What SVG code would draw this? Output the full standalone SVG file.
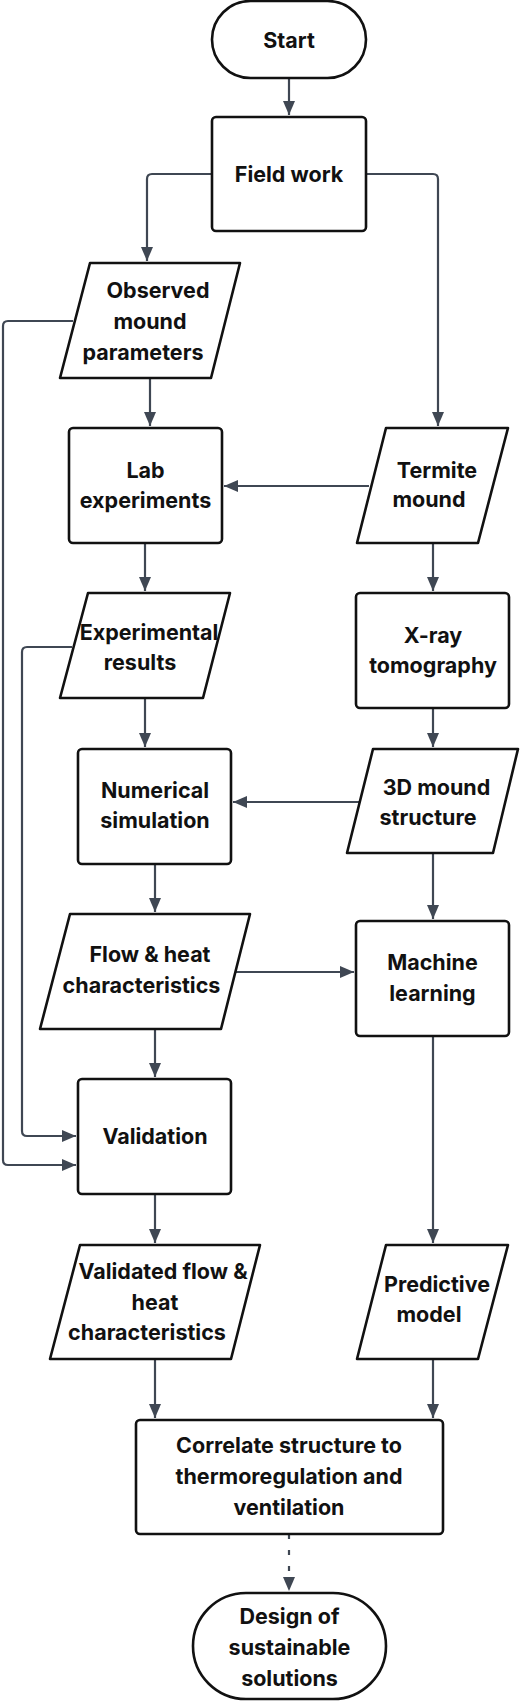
<svg xmlns="http://www.w3.org/2000/svg" width="520" height="1702" viewBox="0 0 520 1702">
<defs>
<style>
.n{fill:#fff;stroke:#111;stroke-width:2.6;stroke-linejoin:round}
.t{font-family:Inter,"Liberation Sans",sans-serif;font-weight:700;font-size:21.5px;fill:#111;text-anchor:middle}
.c{fill:none;stroke:#3f4753;stroke-width:2.2;marker-end:url(#ah)}
.d{stroke-dasharray:5 11}
</style>
<marker id="ah" markerUnits="userSpaceOnUse" markerWidth="16" markerHeight="14" refX="14" refY="6.5" orient="auto">
<path d="M0,0.5 L14,6.5 L0,12.5 z" fill="#3f4753"/>
</marker>
</defs>
<g id="connectors">
<path class="c" d="M289,79 V115"/>
<path class="c" d="M212,174 H152 Q147,174 147,179 V261"/>
<path class="c" d="M366,174 H433 Q438,174 438,179 V426"/>
<path class="c" d="M150,378 V426"/>
<path class="c" d="M73,321 H8 Q3,321 3,326 V1160 Q3,1165 8,1165 H76"/>
<path class="c" d="M369,486 H224"/>
<path class="c" d="M145,543 V591"/>
<path class="c" d="M433,543 V591"/>
<path class="c" d="M72,647 H27 Q22,647 22,652 V1131 Q22,1136 27,1136 H76"/>
<path class="c" d="M145,698 V747"/>
<path class="c" d="M433,708 V747"/>
<path class="c" d="M359,802 H233"/>
<path class="c" d="M155,864 V912"/>
<path class="c" d="M433,853 V919"/>
<path class="c" d="M236,972 H354"/>
<path class="c" d="M155,1029 V1077"/>
<path class="c" d="M433,1036 V1243"/>
<path class="c" d="M155,1194 V1243"/>
<path class="c" d="M155,1359 V1418"/>
<path class="c" d="M433,1359 V1418"/>
<path class="c d" d="M289,1534 V1591"/>
</g>
<g id="start">
<rect class="n" x="212" y="1" width="154" height="77" rx="38.5"/>
<text class="t" x="289" y="48">Start</text>
</g>
<g id="fieldwork">
<rect class="n" x="212" y="117" width="154" height="114" rx="4"/>
<text class="t" x="289" y="182">Field work</text>
</g>
<g id="observed">
<path class="n" d="M90,263 H240 L211,378 H60 Z"/>
<text class="t" x="158" y="298">Observed</text>
<text class="t" x="150" y="329">mound</text>
<text class="t" x="143" y="360">parameters</text>
</g>
<g id="lab">
<rect class="n" x="69" y="428" width="153" height="115" rx="4"/>
<text class="t" x="145.5" y="478">Lab</text>
<text class="t" x="145.5" y="508">experiments</text>
</g>
<g id="termite">
<path class="n" d="M386,428 H508 L478,543 H357 Z"/>
<text class="t" x="437" y="478">Termite</text>
<text class="t" x="429" y="507">mound</text>
</g>
<g id="experimental">
<path class="n" d="M88,593 H230 L203,698 H60 Z"/>
<text class="t" x="149" y="640">Experimental</text>
<text class="t" x="140" y="670">results</text>
</g>
<g id="xray">
<rect class="n" x="356" y="593" width="153" height="115" rx="4"/>
<text class="t" x="433" y="643">X-ray</text>
<text class="t" x="433" y="673">tomography</text>
</g>
<g id="numerical">
<rect class="n" x="78" y="749" width="153" height="115" rx="4"/>
<text class="t" x="155" y="798">Numerical</text>
<text class="t" x="155" y="828">simulation</text>
</g>
<g id="mound3d">
<path class="n" d="M373,749 H518 L493,853 H347 Z"/>
<text class="t" x="436.5" y="795">3D mound</text>
<text class="t" x="428" y="825">structure</text>
</g>
<g id="flow">
<path class="n" d="M70,914 H250 L221,1029 H40 Z"/>
<text class="t" x="150" y="962">Flow &amp; heat</text>
<text class="t" x="141.5" y="993">characteristics</text>
</g>
<g id="machine">
<rect class="n" x="356" y="921" width="153" height="115" rx="4"/>
<text class="t" x="432.5" y="970">Machine</text>
<text class="t" x="432.5" y="1001">learning</text>
</g>
<g id="validation">
<rect class="n" x="78" y="1079" width="153" height="115" rx="4"/>
<text class="t" x="155" y="1144">Validation</text>
</g>
<g id="validated">
<path class="n" d="M80,1245 H260 L231,1359 H50 Z"/>
<text class="t" x="163" y="1279">Validated flow &amp;</text>
<text class="t" x="155" y="1310">heat</text>
<text class="t" x="147" y="1340">characteristics</text>
</g>
<g id="predictive">
<path class="n" d="M386,1245 H508 L478,1359 H357 Z"/>
<text class="t" x="437" y="1292">Predictive</text>
<text class="t" x="429" y="1322">model</text>
</g>
<g id="correlate">
<rect class="n" x="136" y="1420" width="307" height="114" rx="4"/>
<text class="t" x="289" y="1453">Correlate structure to</text>
<text class="t" x="289" y="1484">thermoregulation and</text>
<text class="t" x="289" y="1515">ventilation</text>
</g>
<g id="design">
<rect class="n" x="193" y="1593" width="193" height="106" rx="53"/>
<text class="t" x="289.5" y="1624">Design of</text>
<text class="t" x="289.5" y="1655">sustainable</text>
<text class="t" x="289.5" y="1686">solutions</text>
</g>
</svg>
